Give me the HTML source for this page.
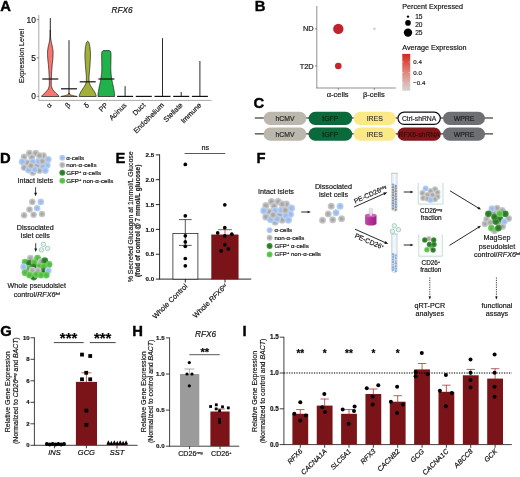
<!DOCTYPE html>
<html lang="en">
<head>
<meta charset="utf-8">
<title>RFX6 figure</title>
<style>
html,body{margin:0;padding:0;background:#fff;}
body{width:520px;height:477px;overflow:hidden;}
svg{display:block;font-family:"Liberation Sans",sans-serif;}
svg text{stroke:currentColor;stroke-width:0.16px;paint-order:stroke fill;}
</style>
</head>
<body>
<svg width="520" height="477" viewBox="0 0 520 477">
<defs>
<radialGradient id="gB" cx="0.5" cy="0.5" r="0.5"><stop offset="0" stop-color="#9bbbeb"/><stop offset="0.3" stop-color="#9bbbeb"/><stop offset="0.72" stop-color="#b1cbf1"/><stop offset="1" stop-color="#bbd2f4"/></radialGradient>
<radialGradient id="gG" cx="0.5" cy="0.5" r="0.5"><stop offset="0" stop-color="#a7a7a7"/><stop offset="0.3" stop-color="#a7a7a7"/><stop offset="0.72" stop-color="#c3c3c3"/><stop offset="1" stop-color="#cdcdcc"/></radialGradient>
<radialGradient id="gD" cx="0.5" cy="0.5" r="0.5"><stop offset="0" stop-color="#28772a"/><stop offset="0.3" stop-color="#28772a"/><stop offset="0.72" stop-color="#3a8c33"/><stop offset="1" stop-color="#4f9c45"/></radialGradient>
<radialGradient id="gL" cx="0.5" cy="0.5" r="0.5"><stop offset="0" stop-color="#52bb42"/><stop offset="0.3" stop-color="#52bb42"/><stop offset="0.72" stop-color="#66c857"/><stop offset="1" stop-color="#7bd26d"/></radialGradient>
<linearGradient id="cb" x1="0" y1="0" x2="0" y2="1"><stop offset="0" stop-color="#d6241c"/><stop offset="0.5" stop-color="#e0867c"/><stop offset="1" stop-color="#d6d6d6"/></linearGradient>
<linearGradient id="mag" x1="0" y1="0" x2="1" y2="0"><stop offset="0" stop-color="#c04aa6"/><stop offset="0.5" stop-color="#b02f95"/><stop offset="1" stop-color="#9a2482"/></linearGradient>
<linearGradient id="tube" x1="0" y1="0" x2="1" y2="0"><stop offset="0" stop-color="#dfe7ef"/><stop offset="0.5" stop-color="#f6f9fc"/><stop offset="1" stop-color="#dfe7ef"/></linearGradient>
</defs>
<rect width="520" height="477" fill="#ffffff"/>
<text transform="translate(5.55 11.4) scale(1 1.04)" font-size="14.8" font-weight="bold" text-anchor="middle" fill="#000" style="stroke-width:0.4px">A</text>
<text x="122" y="12.6" font-size="8.2" fill="#111" text-anchor="middle" font-style="italic">RFX6</text>
<line x1="38.8" y1="15" x2="38.8" y2="100.4" stroke="#555" stroke-width="0.5"/>
<line x1="38.5" y1="100.4" x2="211.5" y2="100.4" stroke="#555" stroke-width="0.5"/>
<line x1="36.8" y1="96.3" x2="38.8" y2="96.3" stroke="#333" stroke-width="0.6"/>
<text x="35.8" y="99.3" font-size="8.4" fill="#111" text-anchor="end">0</text>
<line x1="36.8" y1="57.9" x2="38.8" y2="57.9" stroke="#333" stroke-width="0.6"/>
<text x="35.8" y="60.9" font-size="8.4" fill="#111" text-anchor="end">5</text>
<line x1="36.8" y1="19.6" x2="38.8" y2="19.6" stroke="#333" stroke-width="0.6"/>
<text x="35.8" y="22.6" font-size="8.4" fill="#111" text-anchor="end">10</text>
<text x="24.3" y="56" font-size="7.1" fill="#111" text-anchor="middle" transform="rotate(-90 24.3 56)">Expression Level</text>
<line x1="50.3" y1="18.1" x2="50.3" y2="40" stroke="#111" stroke-width="0.9"/>
<line x1="69" y1="40.2" x2="69" y2="94" stroke="#111" stroke-width="0.9"/>
<polygon points="50.35,30 50.35,30.84 50.37,31.68 50.39,32.53 50.41,33.37 50.44,34.21 50.48,35.05 50.52,35.89 50.57,36.73 50.62,37.58 50.68,38.42 50.78,39.26 50.92,40.1 51.08,40.94 51.25,41.78 51.43,42.63 51.6,43.47 51.79,44.31 51.99,45.15 52.2,45.99 52.39,46.84 52.55,47.68 52.68,48.52 52.8,49.36 52.92,50.2 53.02,51.04 53.08,51.89 53.1,52.73 53.09,53.57 53.07,54.41 53.04,55.25 53,56.09 52.96,56.94 52.91,57.78 52.86,58.62 52.79,59.46 52.7,60.3 52.61,61.15 52.51,61.99 52.41,62.83 52.31,63.67 52.23,64.51 52.15,65.35 52.08,66.2 52.01,67.04 51.95,67.88 51.89,68.72 51.83,69.56 51.77,70.41 51.72,71.25 51.67,72.09 51.62,72.93 51.58,73.77 51.53,74.61 51.49,75.46 51.45,76.3 51.4,77.14 51.36,77.98 51.33,78.82 51.31,79.66 51.29,80.51 51.28,81.35 51.26,82.19 51.25,83.03 51.25,83.87 51.28,84.72 51.39,85.56 51.54,86.4 51.74,87.24 51.99,88.08 52.38,88.92 52.87,89.77 53.57,90.61 54.31,91.45 55.03,92.29 55.84,93.13 56.87,93.97 57.86,94.82 58.68,95.66 59,96.5 41.6,96.5 41.92,95.66 42.74,94.82 43.73,93.97 44.76,93.13 45.57,92.29 46.29,91.45 47.03,90.61 47.73,89.77 48.22,88.92 48.61,88.08 48.86,87.24 49.06,86.4 49.21,85.56 49.32,84.72 49.35,83.87 49.35,83.03 49.34,82.19 49.32,81.35 49.31,80.51 49.29,79.66 49.27,78.82 49.24,77.98 49.2,77.14 49.15,76.3 49.11,75.46 49.07,74.61 49.02,73.77 48.98,72.93 48.93,72.09 48.88,71.25 48.83,70.41 48.77,69.56 48.71,68.72 48.65,67.88 48.59,67.04 48.52,66.2 48.45,65.35 48.37,64.51 48.29,63.67 48.19,62.83 48.09,61.99 47.99,61.15 47.9,60.3 47.81,59.46 47.74,58.62 47.69,57.78 47.64,56.94 47.6,56.09 47.56,55.25 47.53,54.41 47.51,53.57 47.5,52.73 47.52,51.89 47.58,51.04 47.68,50.2 47.8,49.36 47.92,48.52 48.05,47.68 48.21,46.84 48.4,45.99 48.61,45.15 48.81,44.31 49,43.47 49.17,42.63 49.35,41.78 49.52,40.94 49.68,40.1 49.82,39.26 49.92,38.42 49.98,37.58 50.03,36.73 50.08,35.89 50.12,35.05 50.16,34.21 50.19,33.37 50.21,32.53 50.23,31.68 50.25,30.84 50.25,30" fill="#f8766d" stroke="#151515" stroke-width="0.7" stroke-linejoin="round"/>
<polygon points="69.05,93 69.05,93.04 69.05,93.09 69.06,93.13 69.06,93.18 69.07,93.22 69.07,93.27 69.08,93.31 69.09,93.35 69.1,93.4 69.11,93.44 69.12,93.49 69.13,93.53 69.15,93.58 69.16,93.62 69.18,93.66 69.2,93.71 69.21,93.75 69.23,93.8 69.25,93.84 69.27,93.89 69.29,93.93 69.31,93.97 69.34,94.02 69.36,94.06 69.39,94.11 69.41,94.15 69.44,94.2 69.46,94.24 69.49,94.28 69.52,94.33 69.56,94.37 69.61,94.42 69.67,94.46 69.74,94.51 69.81,94.55 69.89,94.59 69.98,94.64 70.08,94.68 70.18,94.73 70.29,94.77 70.4,94.82 70.52,94.86 70.64,94.91 70.77,94.95 70.89,94.99 71.02,95.04 71.15,95.08 71.28,95.13 71.41,95.17 71.55,95.22 71.69,95.26 71.84,95.3 72.01,95.35 72.18,95.39 72.37,95.44 72.56,95.48 72.76,95.53 72.96,95.57 73.16,95.61 73.37,95.66 73.58,95.7 73.79,95.75 74,95.79 74.21,95.84 74.41,95.88 74.61,95.92 74.81,95.97 75.01,96.01 75.21,96.06 75.41,96.1 75.62,96.15 75.83,96.19 76.03,96.23 76.24,96.28 76.45,96.32 76.66,96.37 76.87,96.41 77.09,96.46 77.3,96.5 60.7,96.5 60.91,96.46 61.13,96.41 61.34,96.37 61.55,96.32 61.76,96.28 61.97,96.23 62.17,96.19 62.38,96.15 62.59,96.1 62.79,96.06 62.99,96.01 63.19,95.97 63.39,95.92 63.59,95.88 63.79,95.84 64,95.79 64.21,95.75 64.42,95.7 64.63,95.66 64.84,95.61 65.04,95.57 65.24,95.53 65.44,95.48 65.63,95.44 65.82,95.39 65.99,95.35 66.16,95.3 66.31,95.26 66.45,95.22 66.59,95.17 66.72,95.13 66.85,95.08 66.98,95.04 67.11,94.99 67.23,94.95 67.36,94.91 67.48,94.86 67.6,94.82 67.71,94.77 67.82,94.73 67.92,94.68 68.02,94.64 68.11,94.59 68.19,94.55 68.26,94.51 68.33,94.46 68.39,94.42 68.44,94.37 68.48,94.33 68.51,94.28 68.54,94.24 68.56,94.2 68.59,94.15 68.61,94.11 68.64,94.06 68.66,94.02 68.69,93.97 68.71,93.93 68.73,93.89 68.75,93.84 68.77,93.8 68.79,93.75 68.8,93.71 68.82,93.66 68.84,93.62 68.85,93.58 68.87,93.53 68.88,93.49 68.89,93.44 68.9,93.4 68.91,93.35 68.92,93.31 68.93,93.27 68.93,93.22 68.94,93.18 68.94,93.13 68.95,93.09 68.95,93.04 68.95,93" fill="#e08b00" stroke="#151515" stroke-width="0.7" stroke-linejoin="round"/>
<polygon points="87.73,41.2 88.53,41.9 88.89,42.6 89.13,43.3 89.3,44 89.46,44.7 89.6,45.4 89.73,46.1 89.85,46.8 89.96,47.5 90.05,48.2 90.13,48.9 90.19,49.6 90.25,50.3 90.3,51 90.35,51.7 90.4,52.4 90.44,53.1 90.47,53.8 90.49,54.5 90.5,55.2 90.5,55.9 90.48,56.6 90.45,57.3 90.41,58 90.37,58.7 90.33,59.4 90.29,60.1 90.26,60.8 90.22,61.5 90.17,62.2 90.13,62.9 90.08,63.6 90.03,64.3 89.99,65 89.94,65.7 89.89,66.4 89.83,67.1 89.78,67.8 89.72,68.5 89.67,69.2 89.61,69.9 89.55,70.6 89.48,71.3 89.41,72 89.34,72.7 89.27,73.4 89.21,74.1 89.16,74.8 89.11,75.5 89.07,76.2 89.03,76.9 89,77.6 89,78.3 89,79 89,79.7 89,80.4 89.01,81.1 89.1,81.8 89.29,82.5 89.51,83.2 89.73,83.9 90.02,84.6 90.35,85.3 90.72,86 91.15,86.7 91.62,87.4 92.12,88.1 92.61,88.8 93.06,89.5 93.51,90.2 93.96,90.9 94.4,91.6 94.8,92.3 95.16,93 95.46,93.7 95.73,94.4 95.95,95.1 96.1,95.8 96.2,96.5 79.2,96.5 79.3,95.8 79.45,95.1 79.67,94.4 79.94,93.7 80.24,93 80.6,92.3 81,91.6 81.44,90.9 81.89,90.2 82.34,89.5 82.79,88.8 83.28,88.1 83.78,87.4 84.25,86.7 84.68,86 85.05,85.3 85.38,84.6 85.67,83.9 85.89,83.2 86.11,82.5 86.3,81.8 86.39,81.1 86.4,80.4 86.4,79.7 86.4,79 86.4,78.3 86.4,77.6 86.37,76.9 86.33,76.2 86.29,75.5 86.24,74.8 86.19,74.1 86.13,73.4 86.06,72.7 85.99,72 85.92,71.3 85.85,70.6 85.79,69.9 85.73,69.2 85.68,68.5 85.62,67.8 85.57,67.1 85.51,66.4 85.46,65.7 85.41,65 85.37,64.3 85.32,63.6 85.27,62.9 85.23,62.2 85.18,61.5 85.14,60.8 85.11,60.1 85.07,59.4 85.03,58.7 84.99,58 84.95,57.3 84.92,56.6 84.9,55.9 84.9,55.2 84.91,54.5 84.93,53.8 84.96,53.1 85,52.4 85.05,51.7 85.1,51 85.15,50.3 85.21,49.6 85.27,48.9 85.35,48.2 85.44,47.5 85.55,46.8 85.67,46.1 85.8,45.4 85.94,44.7 86.1,44 86.27,43.3 86.51,42.6 86.87,41.9 87.67,41.2" fill="#a2b038" stroke="#151515" stroke-width="0.7" stroke-linejoin="round"/>
<polygon points="109.3,50.6 110.2,51.18 110.57,51.76 110.77,52.34 110.85,52.92 110.91,53.51 110.96,54.09 110.99,54.67 111,55.25 111,55.83 111,56.41 110.99,56.99 110.98,57.57 110.97,58.15 110.96,58.73 110.95,59.32 110.94,59.9 110.93,60.48 110.92,61.06 110.91,61.64 110.9,62.22 110.89,62.8 110.88,63.38 110.86,63.96 110.85,64.54 110.84,65.13 110.83,65.71 110.82,66.29 110.81,66.87 110.81,67.45 110.8,68.03 110.8,68.61 110.81,69.19 110.82,69.77 110.84,70.35 110.87,70.94 110.91,71.52 110.95,72.1 111,72.68 111.04,73.26 111.09,73.84 111.14,74.42 111.2,75 111.26,75.58 111.34,76.16 111.42,76.75 111.5,77.33 111.59,77.91 111.67,78.49 111.77,79.07 111.87,79.65 111.97,80.23 112.07,80.81 112.18,81.39 112.3,81.97 112.41,82.56 112.53,83.14 112.65,83.72 112.78,84.3 112.92,84.88 113.05,85.46 113.19,86.04 113.32,86.62 113.44,87.2 113.55,87.78 113.66,88.37 113.76,88.95 113.86,89.53 113.96,90.11 114.05,90.69 114.14,91.27 114.23,91.85 114.32,92.43 114.39,93.01 114.46,93.59 114.52,94.18 114.57,94.76 114.6,95.34 114.6,95.92 114.6,96.5 98,96.5 98,95.92 98,95.34 98.03,94.76 98.08,94.18 98.14,93.59 98.21,93.01 98.28,92.43 98.37,91.85 98.46,91.27 98.55,90.69 98.64,90.11 98.74,89.53 98.84,88.95 98.94,88.37 99.05,87.78 99.16,87.2 99.28,86.62 99.41,86.04 99.55,85.46 99.68,84.88 99.82,84.3 99.95,83.72 100.07,83.14 100.19,82.56 100.3,81.97 100.42,81.39 100.53,80.81 100.63,80.23 100.73,79.65 100.83,79.07 100.93,78.49 101.01,77.91 101.1,77.33 101.18,76.75 101.26,76.16 101.34,75.58 101.4,75 101.46,74.42 101.51,73.84 101.56,73.26 101.6,72.68 101.65,72.1 101.69,71.52 101.73,70.94 101.76,70.35 101.78,69.77 101.79,69.19 101.8,68.61 101.8,68.03 101.79,67.45 101.79,66.87 101.78,66.29 101.77,65.71 101.76,65.13 101.75,64.54 101.74,63.96 101.72,63.38 101.71,62.8 101.7,62.22 101.69,61.64 101.68,61.06 101.67,60.48 101.66,59.9 101.65,59.32 101.64,58.73 101.63,58.15 101.62,57.57 101.61,56.99 101.6,56.41 101.6,55.83 101.6,55.25 101.61,54.67 101.64,54.09 101.69,53.51 101.75,52.92 101.83,52.34 102.03,51.76 102.4,51.18 103.3,50.6" fill="#21b24b" stroke="#151515" stroke-width="0.7" stroke-linejoin="round"/>
<line x1="125.1" y1="86.2" x2="125.1" y2="96.3" stroke="#111" stroke-width="0.9"/>
<line x1="162.5" y1="38.2" x2="162.5" y2="96.3" stroke="#111" stroke-width="0.9"/>
<line x1="181.2" y1="92" x2="181.2" y2="96.3" stroke="#111" stroke-width="0.9"/>
<line x1="199.9" y1="61" x2="199.9" y2="96.3" stroke="#111" stroke-width="0.9"/>
<line x1="42.3" y1="79" x2="58.3" y2="79" stroke="#111" stroke-width="1.2"/>
<line x1="61" y1="88.8" x2="77" y2="88.8" stroke="#111" stroke-width="1.2"/>
<line x1="79.7" y1="81.8" x2="95.7" y2="81.8" stroke="#111" stroke-width="1.2"/>
<line x1="98.4" y1="79" x2="114.4" y2="79" stroke="#111" stroke-width="1.2"/>
<line x1="117.1" y1="96.4" x2="133.1" y2="96.4" stroke="#111" stroke-width="1.2"/>
<line x1="135.8" y1="96.4" x2="151.8" y2="96.4" stroke="#111" stroke-width="1.2"/>
<line x1="154.5" y1="96.4" x2="170.5" y2="96.4" stroke="#111" stroke-width="1.2"/>
<line x1="173.2" y1="96.4" x2="189.2" y2="96.4" stroke="#111" stroke-width="1.2"/>
<line x1="191.9" y1="96.4" x2="207.9" y2="96.4" stroke="#111" stroke-width="1.2"/>
<text x="52.3" y="105.6" font-size="7.15" fill="#111" text-anchor="end" transform="rotate(-45 52.3 105.6)">α</text>
<text x="71" y="105.6" font-size="7.15" fill="#111" text-anchor="end" transform="rotate(-45 71 105.6)">β</text>
<text x="89.7" y="105.6" font-size="7.15" fill="#111" text-anchor="end" transform="rotate(-45 89.7 105.6)">δ</text>
<text x="108.4" y="105.6" font-size="7.15" fill="#111" text-anchor="end" transform="rotate(-45 108.4 105.6)">PP</text>
<text x="127.1" y="105.6" font-size="7.15" fill="#111" text-anchor="end" transform="rotate(-45 127.1 105.6)">Acinus</text>
<text x="145.8" y="105.6" font-size="7.15" fill="#111" text-anchor="end" transform="rotate(-45 145.8 105.6)">Duct</text>
<text x="164.5" y="105.6" font-size="7.15" fill="#111" text-anchor="end" transform="rotate(-45 164.5 105.6)">Endothelium</text>
<text x="183.2" y="105.6" font-size="7.15" fill="#111" text-anchor="end" transform="rotate(-45 183.2 105.6)">Stellate</text>
<text x="201.9" y="105.6" font-size="7.15" fill="#111" text-anchor="end" transform="rotate(-45 201.9 105.6)">Immune</text>
<text transform="translate(260.1 11.05) scale(1 1.04)" font-size="14.8" font-weight="bold" text-anchor="middle" fill="#000" style="stroke-width:0.4px">B</text>
<line x1="316.8" y1="6" x2="316.8" y2="88.3" stroke="#444" stroke-width="0.6"/>
<line x1="316.5" y1="88" x2="395.8" y2="88" stroke="#444" stroke-width="0.6"/>
<line x1="315" y1="28.8" x2="316.8" y2="28.8" stroke="#444" stroke-width="0.6"/>
<text x="313.6" y="31.4" font-size="7.4" fill="#111" text-anchor="end">ND</text>
<line x1="315" y1="65.9" x2="316.8" y2="65.9" stroke="#444" stroke-width="0.6"/>
<text x="313.6" y="68.5" font-size="7.4" fill="#111" text-anchor="end">T2D</text>
<line x1="338.3" y1="88" x2="338.3" y2="89.8" stroke="#444" stroke-width="0.6"/>
<text x="337.7" y="96.6" font-size="7.5" fill="#111" text-anchor="middle">α-cells</text>
<line x1="374.4" y1="88" x2="374.4" y2="89.8" stroke="#444" stroke-width="0.6"/>
<text x="373.8" y="96.6" font-size="7.5" fill="#111" text-anchor="middle">β-cells</text>
<circle cx="338.3" cy="28.9" r="5.2" fill="#c2232a"/>
<circle cx="338.3" cy="66" r="3.3" fill="#c6262b"/>
<circle cx="374.4" cy="28.9" r="1.3" fill="#d2d2d2"/>
<circle cx="374.4" cy="66" r="0.4" fill="#ececec"/>
<text x="402.3" y="8.6" font-size="7.2" fill="#111">Percent Expressed</text>
<circle cx="408" cy="16.6" r="1.2" fill="#000"/>
<circle cx="408" cy="22.9" r="2.8" fill="#000"/>
<circle cx="408" cy="32.6" r="4.2" fill="#000"/>
<text x="415.2" y="19.2" font-size="6.6" fill="#222">15</text>
<text x="415.2" y="27" font-size="6.6" fill="#222">20</text>
<text x="415.2" y="35.2" font-size="6.6" fill="#222">25</text>
<text x="402.3" y="50.3" font-size="7.2" fill="#111">Average Expression</text>
<rect x="402.3" y="53.9" width="7.9" height="36.9" fill="url(#cb)"/>
<line x1="402.3" y1="62" x2="403.9" y2="62" stroke="#fff" stroke-width="0.4"/>
<line x1="408.6" y1="62" x2="410.2" y2="62" stroke="#fff" stroke-width="0.4"/>
<text x="413.3" y="64.2" font-size="6.1" fill="#222">0.4</text>
<line x1="402.3" y1="72.5" x2="403.9" y2="72.5" stroke="#fff" stroke-width="0.4"/>
<line x1="408.6" y1="72.5" x2="410.2" y2="72.5" stroke="#fff" stroke-width="0.4"/>
<text x="413.3" y="74.7" font-size="6.1" fill="#222">0.0</text>
<line x1="402.3" y1="83" x2="403.9" y2="83" stroke="#fff" stroke-width="0.4"/>
<line x1="408.6" y1="83" x2="410.2" y2="83" stroke="#fff" stroke-width="0.4"/>
<text x="413.3" y="85.2" font-size="6.1" fill="#222">−0.4</text>
<text transform="translate(258.85 107.75) scale(1 1.04)" font-size="14.8" font-weight="bold" text-anchor="middle" fill="#000" style="stroke-width:0.4px">C</text>
<line x1="254.8" y1="118" x2="493" y2="118" stroke="#111" stroke-width="1"/>
<rect x="263.6" y="111.7" width="42.8" height="13.2" fill="#bcb7ad" rx="6.6"/>
<text x="285" y="120.75" font-size="6.9" fill="#2c2c2c" text-anchor="middle">hCMV</text>
<rect x="308.6" y="111.7" width="43.6" height="13.2" fill="#0b6a3b" rx="6.6"/>
<text x="330.4" y="120.75" font-size="6.9" fill="#032a15" text-anchor="middle">tGFP</text>
<rect x="353.6" y="111.7" width="42.2" height="13.2" fill="#fbe988" rx="6.6"/>
<text x="374.7" y="120.75" font-size="6.9" fill="#3c3c34" text-anchor="middle">IRES</text>
<rect x="398" y="112.2" width="42.3" height="12.2" fill="#fff" stroke="#111" stroke-width="1.2" rx="6.1"/>
<text x="419.15" y="120.75" font-size="6.8" fill="#222" text-anchor="middle">Ctrl-shRNA</text>
<rect x="443" y="111.7" width="42" height="13.2" fill="#6e6f72" rx="6.6"/>
<text x="464" y="120.75" font-size="6.9" fill="#222" text-anchor="middle">WPRE</text>
<line x1="254.8" y1="133.9" x2="493" y2="133.9" stroke="#111" stroke-width="1"/>
<rect x="263.6" y="127.6" width="42.8" height="13.2" fill="#bcb7ad" rx="6.6"/>
<text x="285" y="136.65" font-size="6.9" fill="#2c2c2c" text-anchor="middle">hCMV</text>
<rect x="308.6" y="127.6" width="43.6" height="13.2" fill="#0b6a3b" rx="6.6"/>
<text x="330.4" y="136.65" font-size="6.9" fill="#032a15" text-anchor="middle">tGFP</text>
<rect x="353.6" y="127.6" width="42.2" height="13.2" fill="#fbe988" rx="6.6"/>
<text x="374.7" y="136.65" font-size="6.9" fill="#3c3c34" text-anchor="middle">IRES</text>
<rect x="397.5" y="127.6" width="43.3" height="13.2" fill="#82161a" rx="6.6"/>
<text x="419.15" y="136.65" font-size="6.8" fill="#3f0a0c" text-anchor="middle">RFX6-shRNA</text>
<rect x="443" y="127.6" width="42" height="13.2" fill="#6e6f72" rx="6.6"/>
<text x="464" y="136.65" font-size="6.9" fill="#222" text-anchor="middle">WPRE</text>
<text transform="translate(5.4 163.45) scale(1 1.04)" font-size="14.8" font-weight="bold" text-anchor="middle" fill="#000" style="stroke-width:0.4px">D</text>
<circle cx="29.4" cy="153.2" r="3.45" fill="url(#gG)"/>
<circle cx="35.7" cy="153.2" r="3.45" fill="url(#gG)"/>
<circle cx="43.4" cy="155.6" r="3.45" fill="url(#gG)"/>
<circle cx="24.1" cy="157" r="3.45" fill="url(#gG)"/>
<circle cx="39.5" cy="155.6" r="3.45" fill="url(#gG)"/>
<circle cx="31.8" cy="157.5" r="3.45" fill="url(#gG)"/>
<circle cx="27.5" cy="162.8" r="3.45" fill="url(#gG)"/>
<circle cx="24.1" cy="167.6" r="3.45" fill="url(#gG)"/>
<circle cx="30.9" cy="165.7" r="3.45" fill="url(#gG)"/>
<circle cx="37.1" cy="165.7" r="3.45" fill="url(#gG)"/>
<circle cx="39.5" cy="170.5" r="3.45" fill="url(#gG)"/>
<circle cx="32.8" cy="172.4" r="3.45" fill="url(#gG)"/>
<circle cx="22.2" cy="161.8" r="3.45" fill="url(#gB)"/>
<circle cx="32.8" cy="161.8" r="3.45" fill="url(#gB)"/>
<circle cx="38.6" cy="161.3" r="3.45" fill="url(#gB)"/>
<circle cx="48.2" cy="159.4" r="3.45" fill="url(#gB)"/>
<circle cx="47.2" cy="165.2" r="3.45" fill="url(#gB)"/>
<circle cx="42.9" cy="166.6" r="3.45" fill="url(#gB)"/>
<circle cx="45.3" cy="170.5" r="3.45" fill="url(#gB)"/>
<circle cx="28.5" cy="170" r="3.45" fill="url(#gB)"/>
<circle cx="34.7" cy="169.5" r="3.45" fill="url(#gB)"/>
<circle cx="42.4" cy="161.3" r="3.45" fill="url(#gG)"/>
<circle cx="30.9" cy="165.7" r="3.45" fill="url(#gG)"/>
<text x="35.3" y="182.7" font-size="7.15" fill="#111" text-anchor="middle">Intact islets</text>
<line x1="35.6" y1="187.2" x2="35.6" y2="193.1" stroke="#111" stroke-width="0.8"/>
<polygon points="35.6,196.2 34.17,192.8 37.03,192.8" fill="#111"/>
<circle cx="32.3" cy="201.9" r="3.3" fill="url(#gG)"/>
<circle cx="40.8" cy="201.9" r="3.3" fill="url(#gB)"/>
<circle cx="29.5" cy="209.5" r="3.3" fill="url(#gG)"/>
<circle cx="37.1" cy="208.2" r="3.3" fill="url(#gB)"/>
<circle cx="24.1" cy="215.3" r="3.3" fill="url(#gG)"/>
<circle cx="33.6" cy="214.7" r="3.3" fill="url(#gG)"/>
<circle cx="42" cy="214" r="3.3" fill="url(#gG)"/>
<circle cx="62.3" cy="157.8" r="3" fill="url(#gB)"/>
<text x="66.2" y="160" font-size="6.2" fill="#111">α-cells</text>
<circle cx="62.3" cy="164.9" r="3" fill="url(#gG)"/>
<text x="66.2" y="167.1" font-size="6.2" fill="#111">non-α-cells</text>
<circle cx="62.3" cy="172.8" r="3" fill="url(#gD)"/>
<text x="66.2" y="175" font-size="6.2" fill="#111">GFP<tspan baseline-shift="super" font-size="4">+</tspan> α-cells</text>
<circle cx="62.3" cy="180.8" r="3" fill="url(#gL)"/>
<text x="66.2" y="183" font-size="6.2" fill="#111">GFP<tspan baseline-shift="super" font-size="4">+</tspan> non-α-cells</text>
<text x="35.3" y="229.6" font-size="7.15" fill="#111" text-anchor="middle">Dissociated</text>
<text x="35.3" y="237.9" font-size="7.15" fill="#111" text-anchor="middle">islet cells</text>
<line x1="35.7" y1="243.2" x2="35.7" y2="248.9" stroke="#111" stroke-width="0.8"/>
<polygon points="35.7,252 34.27,248.6 37.13,248.6" fill="#111"/>
<circle cx="43.4" cy="244.3" r="2.2" fill="#ffffff" stroke="#6fb39c" stroke-width="0.65"/>
<circle cx="43.4" cy="244.3" r="0.92" fill="#f4fbf8" stroke="#a9d6c6" stroke-width="0.4"/>
<circle cx="47.5" cy="248.5" r="2.2" fill="#ffffff" stroke="#6fb39c" stroke-width="0.65"/>
<circle cx="47.5" cy="248.5" r="0.92" fill="#f4fbf8" stroke="#a9d6c6" stroke-width="0.4"/>
<circle cx="41.4" cy="249.9" r="2.2" fill="#ffffff" stroke="#6fb39c" stroke-width="0.65"/>
<circle cx="41.4" cy="249.9" r="0.92" fill="#f4fbf8" stroke="#a9d6c6" stroke-width="0.4"/>
<circle cx="30.4" cy="258.3" r="3.45" fill="url(#gG)"/>
<circle cx="37.6" cy="258.3" r="3.45" fill="url(#gL)"/>
<circle cx="41" cy="261.6" r="3.45" fill="url(#gG)"/>
<circle cx="44.8" cy="260.7" r="3.45" fill="url(#gD)"/>
<circle cx="25.1" cy="262.1" r="3.45" fill="url(#gL)"/>
<circle cx="29.4" cy="263.1" r="3.45" fill="url(#gD)"/>
<circle cx="34.2" cy="262.6" r="3.45" fill="url(#gL)"/>
<circle cx="49.1" cy="264.5" r="3.45" fill="url(#gL)"/>
<circle cx="28" cy="268.4" r="3.45" fill="url(#gL)"/>
<circle cx="33.8" cy="266.9" r="3.45" fill="url(#gD)"/>
<circle cx="39.5" cy="266.4" r="3.45" fill="url(#gL)"/>
<circle cx="43.8" cy="266.4" r="3.45" fill="url(#gL)"/>
<circle cx="23.7" cy="266.9" r="3.45" fill="url(#gB)"/>
<circle cx="43.8" cy="271.3" r="3.45" fill="url(#gD)"/>
<circle cx="32.3" cy="270.3" r="3.45" fill="url(#gG)"/>
<circle cx="38.1" cy="270.8" r="3.45" fill="url(#gG)"/>
<circle cx="48.2" cy="270.8" r="3.45" fill="url(#gB)"/>
<circle cx="25.1" cy="272.7" r="3.45" fill="url(#gL)"/>
<circle cx="33.8" cy="277" r="3.45" fill="url(#gD)"/>
<circle cx="29.4" cy="275.1" r="3.45" fill="url(#gL)"/>
<circle cx="36.2" cy="274.6" r="3.45" fill="url(#gL)"/>
<circle cx="41" cy="275.1" r="3.45" fill="url(#gL)"/>
<circle cx="46.3" cy="275.1" r="3.45" fill="url(#gL)"/>
<text x="36.7" y="287.9" font-size="7.15" fill="#111" text-anchor="middle">Whole pseudoislet</text>
<text x="36.7" y="296.8" font-size="7.15" fill="#111" text-anchor="middle">control/<tspan font-style="italic">RFX6</tspan><tspan baseline-shift="super" font-size="4" font-style="italic">kd</tspan></text>
<text transform="translate(120.4 163.15) scale(1 1.04)" font-size="14.8" font-weight="bold" text-anchor="middle" fill="#000" style="stroke-width:0.4px">E</text>
<line x1="159.6" y1="154.4" x2="159.6" y2="279.55" stroke="#111" stroke-width="0.9"/>
<line x1="159.6" y1="279.1" x2="251.2" y2="279.1" stroke="#111" stroke-width="0.9"/>
<line x1="155.8" y1="279.1" x2="159.6" y2="279.1" stroke="#111" stroke-width="0.9"/>
<text x="154.2" y="281.3" font-size="6.2" fill="#111" text-anchor="end" font-weight="bold">0.0</text>
<line x1="155.8" y1="254.25" x2="159.6" y2="254.25" stroke="#111" stroke-width="0.9"/>
<text x="154.2" y="256.45" font-size="6.2" fill="#111" text-anchor="end" font-weight="bold">0.5</text>
<line x1="155.8" y1="229.4" x2="159.6" y2="229.4" stroke="#111" stroke-width="0.9"/>
<text x="154.2" y="231.6" font-size="6.2" fill="#111" text-anchor="end" font-weight="bold">1.0</text>
<line x1="155.8" y1="204.55" x2="159.6" y2="204.55" stroke="#111" stroke-width="0.9"/>
<text x="154.2" y="206.75" font-size="6.2" fill="#111" text-anchor="end" font-weight="bold">1.5</text>
<line x1="155.8" y1="179.7" x2="159.6" y2="179.7" stroke="#111" stroke-width="0.9"/>
<text x="154.2" y="181.9" font-size="6.2" fill="#111" text-anchor="end" font-weight="bold">2.0</text>
<line x1="155.8" y1="154.85" x2="159.6" y2="154.85" stroke="#111" stroke-width="0.9"/>
<text x="154.2" y="157.05" font-size="6.2" fill="#111" text-anchor="end" font-weight="bold">2.5</text>
<rect x="172.9" y="233.38" width="25" height="45.72" fill="#fff" stroke="#111" stroke-width="0.7"/>
<rect x="211.6" y="234.87" width="26.6" height="44.23" fill="#7a1418" stroke="#7a1418" stroke-width="0.5"/>
<line x1="185.3" y1="219.6" x2="185.3" y2="245.4" stroke="#111" stroke-width="0.7"/>
<line x1="178.9" y1="219.6" x2="191.7" y2="219.6" stroke="#111" stroke-width="0.7"/>
<line x1="178.9" y1="245.4" x2="191.7" y2="245.4" stroke="#111" stroke-width="0.7"/>
<line x1="225" y1="229.7" x2="225" y2="236" stroke="#9c1c20" stroke-width="0.7"/>
<line x1="218.2" y1="229.7" x2="231.8" y2="229.7" stroke="#9c1c20" stroke-width="0.8"/>
<circle cx="185.3" cy="164.4" r="1.85" fill="#000"/>
<circle cx="185.3" cy="215.8" r="1.85" fill="#000"/>
<circle cx="185.3" cy="235.8" r="1.85" fill="#000"/>
<circle cx="185.3" cy="241.9" r="1.85" fill="#000"/>
<circle cx="185.3" cy="246.3" r="1.85" fill="#000"/>
<circle cx="185.3" cy="258.5" r="1.85" fill="#000"/>
<circle cx="185.3" cy="265.8" r="1.85" fill="#000"/>
<circle cx="224.8" cy="204.8" r="1.85" fill="#000"/>
<circle cx="224.8" cy="227.7" r="1.85" fill="#000"/>
<circle cx="217.7" cy="232.9" r="1.85" fill="#000"/>
<circle cx="231.8" cy="234.2" r="1.85" fill="#000"/>
<circle cx="224.8" cy="235.9" r="1.85" fill="#000"/>
<circle cx="224.8" cy="244.7" r="1.85" fill="#000"/>
<circle cx="228.4" cy="248.8" r="1.85" fill="#000"/>
<circle cx="221.1" cy="250.9" r="1.85" fill="#000"/>
<line x1="184.6" y1="153.5" x2="225.2" y2="153.5" stroke="#111" stroke-width="0.7"/>
<text x="205.2" y="149.9" font-size="7.2" fill="#111" text-anchor="middle">ns</text>
<text x="132.6" y="216.8" font-size="6.95" fill="#222" text-anchor="middle" transform="rotate(-90 132.6 216.8)">% Secreted Glucagon at 1mmol/L Glucose</text>
<text x="140.4" y="220.8" font-size="6.47" fill="#222" text-anchor="middle" font-weight="bold" transform="rotate(-90 140.4 220.8)">(fold of control @ 7 mmol/L glucose)</text>
<line x1="185.3" y1="279.1" x2="185.3" y2="282.5" stroke="#111" stroke-width="0.9"/>
<text x="187.9" y="286.7" font-size="7.25" fill="#111" text-anchor="end" transform="rotate(-45 187.9 286.7)">Whole Control</text>
<line x1="225" y1="279.1" x2="225" y2="282.5" stroke="#111" stroke-width="0.9"/>
<text x="227.6" y="286.7" font-size="7.25" fill="#111" text-anchor="end" transform="rotate(-45 227.6 286.7)">Whole <tspan font-style="italic">RFX6</tspan><tspan baseline-shift="super" font-size="3.6" font-style="italic">kd</tspan></text>
<text transform="translate(260.95 163.15) scale(1 1.04)" font-size="14.8" font-weight="bold" text-anchor="middle" fill="#000" style="stroke-width:0.4px">F</text>
<text x="276" y="194" font-size="7.2" fill="#111" text-anchor="middle">Intact islets</text>
<circle cx="271.5" cy="201.65" r="3.65" fill="url(#gG)"/>
<circle cx="278.18" cy="201.65" r="3.65" fill="url(#gG)"/>
<circle cx="286.35" cy="204.2" r="3.65" fill="url(#gG)"/>
<circle cx="265.89" cy="205.68" r="3.65" fill="url(#gG)"/>
<circle cx="282.21" cy="204.2" r="3.65" fill="url(#gG)"/>
<circle cx="274.05" cy="206.21" r="3.65" fill="url(#gG)"/>
<circle cx="269.49" cy="211.83" r="3.65" fill="url(#gG)"/>
<circle cx="265.89" cy="216.92" r="3.65" fill="url(#gG)"/>
<circle cx="273.1" cy="214.9" r="3.65" fill="url(#gG)"/>
<circle cx="279.67" cy="214.9" r="3.65" fill="url(#gG)"/>
<circle cx="282.21" cy="219.99" r="3.65" fill="url(#gG)"/>
<circle cx="275.11" cy="222.01" r="3.65" fill="url(#gG)"/>
<circle cx="263.87" cy="210.77" r="3.65" fill="url(#gB)"/>
<circle cx="275.11" cy="210.77" r="3.65" fill="url(#gB)"/>
<circle cx="281.26" cy="210.24" r="3.65" fill="url(#gB)"/>
<circle cx="291.43" cy="208.23" r="3.65" fill="url(#gB)"/>
<circle cx="290.37" cy="214.37" r="3.65" fill="url(#gB)"/>
<circle cx="285.81" cy="215.86" r="3.65" fill="url(#gB)"/>
<circle cx="288.36" cy="219.99" r="3.65" fill="url(#gB)"/>
<circle cx="270.55" cy="219.46" r="3.65" fill="url(#gB)"/>
<circle cx="277.12" cy="218.93" r="3.65" fill="url(#gB)"/>
<circle cx="285.29" cy="210.24" r="3.65" fill="url(#gG)"/>
<circle cx="273.1" cy="214.9" r="3.65" fill="url(#gG)"/>
<line x1="301.2" y1="212" x2="307.9" y2="212" stroke="#111" stroke-width="0.9"/>
<polygon points="310.8,212 307.6,213.34 307.6,210.66" fill="#111"/>
<text x="333.5" y="188.8" font-size="7.2" fill="#111" text-anchor="middle">Dissociated</text>
<text x="333.5" y="197.2" font-size="7.2" fill="#111" text-anchor="middle">islet cells</text>
<circle cx="331.2" cy="206.2" r="3.5" fill="url(#gG)"/>
<circle cx="340.1" cy="206.2" r="3.5" fill="url(#gB)"/>
<circle cx="328.2" cy="214" r="3.5" fill="url(#gG)"/>
<circle cx="336" cy="212.7" r="3.5" fill="url(#gB)"/>
<circle cx="322.5" cy="220.3" r="3.5" fill="url(#gG)"/>
<circle cx="332.7" cy="219.8" r="3.5" fill="url(#gG)"/>
<circle cx="341.6" cy="218.8" r="3.5" fill="url(#gG)"/>
<circle cx="269.6" cy="230.2" r="3" fill="url(#gB)"/>
<text x="274.4" y="232.2" font-size="6.1" fill="#111">α-cells</text>
<circle cx="269.6" cy="237.8" r="3" fill="url(#gG)"/>
<text x="274.4" y="239.8" font-size="6.1" fill="#111">non-α-cells</text>
<circle cx="269.6" cy="246" r="3" fill="url(#gD)"/>
<text x="274.4" y="248" font-size="6.1" fill="#111">GFP<tspan baseline-shift="super" font-size="4">+</tspan> α-cells</text>
<circle cx="269.6" cy="254.4" r="3" fill="url(#gL)"/>
<text x="274.4" y="256.4" font-size="6.1" fill="#111">GFP<tspan baseline-shift="super" font-size="4">+</tspan> non-α-cells</text>
<line x1="354.2" y1="207" x2="384.19" y2="193.64" stroke="#111" stroke-width="0.9"/>
<polygon points="387.2,192.3 384.53,195.15 383.3,192.38" fill="#111"/>
<line x1="355" y1="229.2" x2="385.18" y2="242.56" stroke="#111" stroke-width="0.9"/>
<polygon points="388.2,243.9 384.3,243.83 385.52,241.06" fill="#111"/>
<text x="371.2" y="196.4" font-size="6.8" fill="#111" text-anchor="middle" transform="rotate(-24.5 371.2 196.4)">PE-CD26<tspan baseline-shift="super" font-size="3.8">neg</tspan></text>
<text x="368.4" y="243.6" font-size="6.8" fill="#111" text-anchor="middle" transform="rotate(23 368.4 243.6)">PE-CD26<tspan baseline-shift="super" font-size="3.8">+</tspan></text>
<rect x="369.2" y="208.2" width="3.3" height="6.5" fill="#e6e6ea" stroke="#b9b9bf" stroke-width="0.4" rx="1"/>
<path d="M365.1 215.3 V223.6 A5.7 1.9 0 0 0 376.5 223.6 V215.3 Z" fill="url(#mag)"/>
<ellipse cx="370.8" cy="215.3" rx="5.7" ry="1.9" fill="#cb62b5"/>
<rect x="369.6" y="212.4" width="2.5" height="3.2" fill="#dedee2"/>
<path d="M391.6 173.3 V208.6 A2.8 2.8 0 0 0 397.2 208.6 V173.3 Z" fill="url(#tube)" stroke="#b4c3d2" stroke-width="0.5"/>
<line x1="391" y1="173.3" x2="397.8" y2="173.3" stroke="#b4c3d2" stroke-width="0.7"/>
<circle cx="393.1" cy="184.6" r="1.2" fill="#7aa3e2"/>
<circle cx="395.7" cy="185.9" r="1.2" fill="#8e9298"/>
<circle cx="393.1" cy="187.25" r="1.2" fill="#8e9298"/>
<circle cx="395.7" cy="188.55" r="1.2" fill="#8e9298"/>
<circle cx="393.1" cy="189.9" r="1.2" fill="#8e9298"/>
<circle cx="395.7" cy="191.2" r="1.2" fill="#8e9298"/>
<circle cx="393.1" cy="192.55" r="1.2" fill="#8e9298"/>
<circle cx="395.7" cy="193.85" r="1.2" fill="#8e9298"/>
<circle cx="393.1" cy="195.2" r="1.2" fill="#8e9298"/>
<circle cx="395.7" cy="196.5" r="1.2" fill="#8e9298"/>
<circle cx="393.1" cy="197.85" r="1.2" fill="#8e9298"/>
<circle cx="395.7" cy="199.15" r="1.2" fill="#8e9298"/>
<circle cx="393.1" cy="200.5" r="1.2" fill="#8e9298"/>
<circle cx="395.7" cy="201.8" r="1.2" fill="#7aa3e2"/>
<circle cx="393.1" cy="203.15" r="1.2" fill="#8e9298"/>
<circle cx="395.7" cy="204.45" r="1.2" fill="#8e9298"/>
<circle cx="393.1" cy="205.8" r="1.2" fill="#7aa3e2"/>
<circle cx="395.7" cy="207.1" r="1.2" fill="#8e9298"/>
<circle cx="393.1" cy="208.45" r="1.2" fill="#8e9298"/>
<circle cx="395.7" cy="209.75" r="1.2" fill="#8e9298"/>
<path d="M391.6 234 V269.8 A2.8 2.8 0 0 0 397.2 269.8 V234 Z" fill="url(#tube)" stroke="#b4c3d2" stroke-width="0.5"/>
<line x1="391" y1="234" x2="397.8" y2="234" stroke="#b4c3d2" stroke-width="0.7"/>
<circle cx="393.1" cy="254.2" r="1.2" fill="#86ade8"/>
<circle cx="395.7" cy="255.5" r="1.2" fill="#86ade8"/>
<circle cx="393.1" cy="256.8" r="1.2" fill="#86ade8"/>
<circle cx="395.7" cy="258.1" r="1.2" fill="#86ade8"/>
<circle cx="393.1" cy="259.4" r="1.2" fill="#86ade8"/>
<circle cx="395.7" cy="260.7" r="1.2" fill="#c6b3b0"/>
<circle cx="393.1" cy="262" r="1.2" fill="#86ade8"/>
<circle cx="395.7" cy="263.3" r="1.2" fill="#86ade8"/>
<circle cx="393.1" cy="264.6" r="1.2" fill="#c6b3b0"/>
<circle cx="395.7" cy="265.9" r="1.2" fill="#86ade8"/>
<circle cx="393.1" cy="267.2" r="1.2" fill="#86ade8"/>
<circle cx="395.7" cy="268.5" r="1.2" fill="#86ade8"/>
<circle cx="393.1" cy="269.8" r="1.2" fill="#86ade8"/>
<circle cx="395.7" cy="271.1" r="1.2" fill="#86ade8"/>
<circle cx="394.3" cy="225.8" r="2.2" fill="#ffffff" stroke="#6fb39c" stroke-width="0.65"/>
<circle cx="394.3" cy="225.8" r="0.92" fill="#f4fbf8" stroke="#a9d6c6" stroke-width="0.4"/>
<circle cx="398.5" cy="229.7" r="2.2" fill="#ffffff" stroke="#6fb39c" stroke-width="0.65"/>
<circle cx="398.5" cy="229.7" r="0.92" fill="#f4fbf8" stroke="#a9d6c6" stroke-width="0.4"/>
<circle cx="392.5" cy="231.4" r="2.2" fill="#ffffff" stroke="#6fb39c" stroke-width="0.65"/>
<circle cx="392.5" cy="231.4" r="0.92" fill="#f4fbf8" stroke="#a9d6c6" stroke-width="0.4"/>
<line x1="403.7" y1="192" x2="410.7" y2="192" stroke="#111" stroke-width="0.9"/>
<polygon points="413.6,192 410.4,193.34 410.4,190.66" fill="#111"/>
<line x1="403.7" y1="245" x2="410.7" y2="245" stroke="#111" stroke-width="0.9"/>
<polygon points="413.6,245 410.4,246.34 410.4,243.66" fill="#111"/>
<path d="M418.2 182.8 V204.1 H443 V182.8" fill="#fbfdfc" stroke="#9ec9bc" stroke-width="0.6"/>
<circle cx="435" cy="189.3" r="3" fill="url(#gG)"/>
<circle cx="430.6" cy="191.1" r="3" fill="url(#gG)"/>
<circle cx="422.5" cy="193" r="3" fill="url(#gG)"/>
<circle cx="427.5" cy="194.9" r="3" fill="url(#gG)"/>
<circle cx="432.5" cy="194.9" r="3" fill="url(#gG)"/>
<circle cx="437.5" cy="192.4" r="3" fill="url(#gG)"/>
<circle cx="437.5" cy="196.75" r="3" fill="url(#gG)"/>
<circle cx="423.1" cy="198" r="3" fill="url(#gG)"/>
<circle cx="435" cy="199.25" r="3" fill="url(#gG)"/>
<circle cx="427.6" cy="198.8" r="3" fill="url(#gG)"/>
<circle cx="425.6" cy="188.6" r="3" fill="url(#gB)"/>
<circle cx="430.6" cy="199.9" r="3" fill="url(#gB)"/>
<path d="M418.8 234.4 V256.2 H442.3 V234.4" fill="#fbfdfc" stroke="#9ec9bc" stroke-width="0.6"/>
<circle cx="428.75" cy="238.75" r="2.7" fill="url(#gG)"/>
<circle cx="424.75" cy="240" r="2.7" fill="url(#gD)"/>
<circle cx="433.75" cy="240" r="2.7" fill="url(#gD)"/>
<circle cx="431" cy="246.9" r="2.7" fill="url(#gG)"/>
<circle cx="429.4" cy="244.4" r="2.7" fill="url(#gD)"/>
<circle cx="434" cy="244.4" r="2.7" fill="url(#gD)"/>
<circle cx="426.9" cy="249.75" r="2.7" fill="url(#gL)"/>
<circle cx="433.1" cy="250" r="2.7" fill="url(#gD)"/>
<text x="431.2" y="212.6" font-size="6.4" fill="#111" text-anchor="middle">CD26<tspan baseline-shift="super" font-size="3.6">neg</tspan></text>
<text x="431.2" y="220" font-size="6.4" fill="#111" text-anchor="middle">fraction</text>
<text x="430.8" y="265" font-size="6.4" fill="#111" text-anchor="middle">CD26<tspan baseline-shift="super" font-size="3.6">+</tspan></text>
<text x="430.8" y="272.3" font-size="6.4" fill="#111" text-anchor="middle">fraction</text>
<line x1="450" y1="190.8" x2="478.35" y2="207.99" stroke="#111" stroke-width="0.9"/>
<polygon points="481,209.6 477.35,209.06 478.83,206.62" fill="#111"/>
<line x1="449.5" y1="245.4" x2="478.37" y2="227.44" stroke="#111" stroke-width="0.9"/>
<polygon points="481,225.8 478.87,228.81 477.36,226.38" fill="#111"/>
<circle cx="497.1" cy="208.2" r="3.4" fill="url(#gG)"/>
<circle cx="502.2" cy="210.4" r="3.4" fill="url(#gG)"/>
<circle cx="493.6" cy="212.5" r="3.4" fill="url(#gG)"/>
<circle cx="491.9" cy="208.7" r="3.4" fill="url(#gB)"/>
<circle cx="508.7" cy="218.6" r="3.4" fill="url(#gG)"/>
<circle cx="486.7" cy="219.5" r="3.4" fill="url(#gG)"/>
<circle cx="484.9" cy="223.8" r="3.4" fill="url(#gG)"/>
<circle cx="490.1" cy="222.5" r="3.4" fill="url(#gG)"/>
<circle cx="500.1" cy="223.4" r="3.4" fill="url(#gG)"/>
<circle cx="494.5" cy="230.7" r="3.4" fill="url(#gG)"/>
<circle cx="502.7" cy="226.4" r="3.4" fill="url(#gG)"/>
<circle cx="488.4" cy="213.8" r="3.4" fill="url(#gD)"/>
<circle cx="505.3" cy="213.8" r="3.4" fill="url(#gD)"/>
<circle cx="499.7" cy="218.6" r="3.4" fill="url(#gD)"/>
<circle cx="495.8" cy="221.6" r="3.4" fill="url(#gD)"/>
<circle cx="494.5" cy="216.9" r="3.4" fill="url(#gD)"/>
<circle cx="499.7" cy="213.8" r="3.4" fill="url(#gL)"/>
<circle cx="504.4" cy="221.6" r="3.4" fill="url(#gB)"/>
<circle cx="491.4" cy="228.1" r="3.4" fill="url(#gL)"/>
<circle cx="498.4" cy="228.1" r="3.4" fill="url(#gD)"/>
<text x="497" y="240.2" font-size="7.2" fill="#111" text-anchor="middle">MagSep</text>
<text x="497" y="248.8" font-size="7.2" fill="#111" text-anchor="middle">pseudoislet</text>
<text x="497" y="257.2" font-size="7.2" fill="#111" text-anchor="middle">control/<tspan font-style="italic">RFX6</tspan><tspan baseline-shift="super" font-size="3.8" font-style="italic">kd</tspan></text>
<line x1="429.8" y1="277.5" x2="429.8" y2="296.8" stroke="#111" stroke-width="0.8" stroke-dasharray="1.2 1.1"/>
<polygon points="429.8,299.5 428.54,296.5 431.06,296.5" fill="#111"/>
<line x1="496.4" y1="277.5" x2="496.4" y2="296.8" stroke="#111" stroke-width="0.8" stroke-dasharray="1.2 1.1"/>
<polygon points="496.4,299.5 495.14,296.5 497.66,296.5" fill="#111"/>
<text x="429.8" y="307.6" font-size="7.2" fill="#111" text-anchor="middle">qRT-PCR</text>
<text x="429.8" y="315.8" font-size="7.2" fill="#111" text-anchor="middle">analyses</text>
<text x="497" y="307.6" font-size="7.2" fill="#111" text-anchor="middle">functional</text>
<text x="497" y="315.8" font-size="7.2" fill="#111" text-anchor="middle">assays</text>
<text transform="translate(5.95 335.95) scale(1 1.04)" font-size="14.8" font-weight="bold" text-anchor="middle" fill="#000" style="stroke-width:0.4px">G</text>
<line x1="34.4" y1="337.4" x2="34.4" y2="445.7" stroke="#111" stroke-width="0.8"/>
<line x1="34.4" y1="445.3" x2="137.6" y2="445.3" stroke="#111" stroke-width="0.8"/>
<line x1="30.5" y1="445.3" x2="34.4" y2="445.3" stroke="#111" stroke-width="0.8"/>
<text x="29.6" y="447.2" font-size="6" fill="#111" text-anchor="end" font-weight="bold">0</text>
<line x1="30.5" y1="423.8" x2="34.4" y2="423.8" stroke="#111" stroke-width="0.8"/>
<text x="29.6" y="425.7" font-size="6" fill="#111" text-anchor="end" font-weight="bold">2</text>
<line x1="30.5" y1="402.3" x2="34.4" y2="402.3" stroke="#111" stroke-width="0.8"/>
<text x="29.6" y="404.2" font-size="6" fill="#111" text-anchor="end" font-weight="bold">4</text>
<line x1="30.5" y1="380.8" x2="34.4" y2="380.8" stroke="#111" stroke-width="0.8"/>
<text x="29.6" y="382.7" font-size="6" fill="#111" text-anchor="end" font-weight="bold">6</text>
<line x1="30.5" y1="359.3" x2="34.4" y2="359.3" stroke="#111" stroke-width="0.8"/>
<text x="29.6" y="361.2" font-size="6" fill="#111" text-anchor="end" font-weight="bold">8</text>
<line x1="30.5" y1="337.8" x2="34.4" y2="337.8" stroke="#111" stroke-width="0.8"/>
<text x="29.6" y="339.7" font-size="6" fill="#111" text-anchor="end" font-weight="bold">10</text>
<rect x="75.9" y="381.88" width="21.1" height="63.43" fill="#7a1418"/>
<line x1="86.4" y1="372.8" x2="86.4" y2="383" stroke="#9c1c20" stroke-width="0.7"/>
<line x1="81.4" y1="372.8" x2="91.4" y2="372.8" stroke="#9c1c20" stroke-width="0.7"/>
<rect x="80.1" y="352.7" width="3.8" height="3.8" fill="#000"/>
<rect x="88.3" y="354.1" width="3.8" height="3.8" fill="#000"/>
<rect x="84.3" y="370.9" width="3.8" height="3.8" fill="#000"/>
<rect x="80.1" y="377.4" width="3.8" height="3.8" fill="#000"/>
<rect x="88.3" y="377.4" width="3.8" height="3.8" fill="#000"/>
<rect x="84.5" y="408.7" width="3.8" height="3.8" fill="#000"/>
<rect x="84.5" y="422.9" width="3.8" height="3.8" fill="#000"/>
<circle cx="46.9" cy="444" r="1.95" fill="#000"/>
<circle cx="49.75" cy="444.5" r="1.95" fill="#000"/>
<circle cx="52.6" cy="444" r="1.95" fill="#000"/>
<circle cx="55.45" cy="444.5" r="1.95" fill="#000"/>
<circle cx="58.3" cy="444" r="1.95" fill="#000"/>
<circle cx="61.15" cy="444.5" r="1.95" fill="#000"/>
<circle cx="64" cy="444" r="1.95" fill="#000"/>
<rect x="107" y="443.7" width="20" height="1.3" fill="#7a1418"/>
<polygon points="108.4,440.18 106.3,444.38 110.5,444.38" fill="#000"/>
<polygon points="111.35,440.78 109.25,444.98 113.45,444.98" fill="#000"/>
<polygon points="114.3,440.18 112.2,444.38 116.4,444.38" fill="#000"/>
<polygon points="117.25,440.78 115.15,444.98 119.35,444.98" fill="#000"/>
<polygon points="120.2,440.18 118.1,444.38 122.3,444.38" fill="#000"/>
<polygon points="123.15,440.78 121.05,444.98 125.25,444.98" fill="#000"/>
<polygon points="126.1,440.18 124,444.38 128.2,444.38" fill="#000"/>
<line x1="53.8" y1="342.6" x2="83.7" y2="342.6" stroke="#111" stroke-width="0.8"/>
<line x1="89.8" y1="342.6" x2="115.7" y2="342.6" stroke="#111" stroke-width="0.8"/>
<text x="68.6" y="343" font-size="15" fill="#000" text-anchor="middle" font-weight="bold">***</text>
<text x="102.7" y="343" font-size="15" fill="#000" text-anchor="middle" font-weight="bold">***</text>
<line x1="54.4" y1="445.3" x2="54.4" y2="448.3" stroke="#111" stroke-width="0.8"/>
<text x="54.4" y="455.2" font-size="7.5" fill="#000" text-anchor="middle" font-style="italic">INS</text>
<line x1="86.4" y1="445.3" x2="86.4" y2="448.3" stroke="#111" stroke-width="0.8"/>
<text x="86.4" y="455.2" font-size="7.5" fill="#000" text-anchor="middle" font-style="italic">GCG</text>
<line x1="117" y1="445.3" x2="117" y2="448.3" stroke="#111" stroke-width="0.8"/>
<text x="117" y="455.2" font-size="7.5" fill="#000" text-anchor="middle" font-style="italic">SST</text>
<text x="9.9" y="391.8" font-size="7" fill="#151515" text-anchor="middle" transform="rotate(-90 9.9 391.8)">Relative Gene Expression</text>
<text x="18.4" y="390.7" font-size="6.9" fill="#151515" text-anchor="middle" transform="rotate(-90 18.4 390.7)">(Normalized to <tspan font-style="italic">CD26</tspan><tspan baseline-shift="super" font-size="3.8" font-style="italic">neg</tspan> and <tspan font-style="italic">BACT</tspan>)</text>
<text transform="translate(137.6 335.95) scale(1 1.04)" font-size="14.8" font-weight="bold" text-anchor="middle" fill="#000" style="stroke-width:0.4px">H</text>
<text x="205.6" y="336.6" font-size="8.3" fill="#111" text-anchor="middle" font-style="italic">RFX6</text>
<line x1="169.6" y1="337.5" x2="169.6" y2="446.6" stroke="#111" stroke-width="0.8"/>
<line x1="169.6" y1="446.2" x2="239.3" y2="446.2" stroke="#111" stroke-width="0.8"/>
<line x1="165.9" y1="446.2" x2="169.6" y2="446.2" stroke="#111" stroke-width="0.8"/>
<text x="164.6" y="448.4" font-size="6.1" fill="#111" text-anchor="end" font-weight="bold">0.0</text>
<line x1="165.9" y1="410.1" x2="169.6" y2="410.1" stroke="#111" stroke-width="0.8"/>
<text x="164.6" y="412.3" font-size="6.1" fill="#111" text-anchor="end" font-weight="bold">0.5</text>
<line x1="165.9" y1="374" x2="169.6" y2="374" stroke="#111" stroke-width="0.8"/>
<text x="164.6" y="376.2" font-size="6.1" fill="#111" text-anchor="end" font-weight="bold">1.0</text>
<line x1="165.9" y1="337.9" x2="169.6" y2="337.9" stroke="#111" stroke-width="0.8"/>
<text x="164.6" y="340.1" font-size="6.1" fill="#111" text-anchor="end" font-weight="bold">1.5</text>
<rect x="180" y="374" width="19.3" height="72.2" fill="#9b9b9b"/>
<rect x="210.4" y="411.5" width="19.2" height="34.7" fill="#7a1418"/>
<line x1="189.4" y1="369" x2="189.4" y2="375" stroke="#9b9b9b" stroke-width="0.8"/>
<line x1="184.4" y1="369" x2="194.4" y2="369" stroke="#9b9b9b" stroke-width="0.8"/>
<line x1="219.8" y1="409" x2="219.8" y2="412" stroke="#9c1c20" stroke-width="0.8"/>
<line x1="214.8" y1="409" x2="224.8" y2="409" stroke="#9c1c20" stroke-width="0.8"/>
<circle cx="189.3" cy="362.6" r="1.6" fill="#000"/>
<circle cx="187" cy="374" r="1.6" fill="#000"/>
<circle cx="192" cy="374" r="1.6" fill="#000"/>
<circle cx="189.3" cy="385.8" r="1.6" fill="#000"/>
<rect x="209.2" y="405.1" width="2.8" height="2.8" fill="#000"/>
<rect x="214.9" y="403.4" width="2.8" height="2.8" fill="#000"/>
<rect x="221.1" y="405.4" width="2.8" height="2.8" fill="#000"/>
<rect x="226.9" y="406.5" width="2.8" height="2.8" fill="#000"/>
<rect x="214.8" y="407.5" width="2.8" height="2.8" fill="#000"/>
<rect x="218.2" y="409.4" width="2.8" height="2.8" fill="#000"/>
<rect x="218.2" y="418" width="2.8" height="2.8" fill="#000"/>
<rect x="218.2" y="421" width="2.8" height="2.8" fill="#000"/>
<line x1="189.4" y1="354.7" x2="219.7" y2="354.7" stroke="#111" stroke-width="0.7"/>
<text x="204.8" y="355.8" font-size="11.2" fill="#000" text-anchor="middle" font-weight="bold">**</text>
<text x="190.5" y="455.6" font-size="7.1" fill="#111" text-anchor="middle">CD26<tspan baseline-shift="super" font-size="3.8">neg</tspan></text>
<text x="221.3" y="455.6" font-size="7.1" fill="#111" text-anchor="middle">CD26<tspan baseline-shift="super" font-size="3.8">+</tspan></text>
<line x1="189.6" y1="446.2" x2="189.6" y2="449.2" stroke="#111" stroke-width="0.8"/>
<line x1="220" y1="446.2" x2="220" y2="449.2" stroke="#111" stroke-width="0.8"/>
<text x="146.4" y="391.7" font-size="7" fill="#151515" text-anchor="middle" transform="rotate(-90 146.4 391.7)">Relative Gene Expression</text>
<text x="152.9" y="391.4" font-size="6.9" fill="#151515" text-anchor="middle" transform="rotate(-90 152.9 391.4)">(Normalized to control and <tspan font-style="italic">BACT</tspan>)</text>
<text transform="translate(244.65 336.2) scale(1 1.04)" font-size="14.8" font-weight="bold" text-anchor="middle" fill="#000" style="stroke-width:0.4px">I</text>
<line x1="283.9" y1="336.8" x2="283.9" y2="445" stroke="#111" stroke-width="0.8"/>
<line x1="283.9" y1="444.6" x2="511.8" y2="444.6" stroke="#111" stroke-width="0.8"/>
<line x1="279.7" y1="444.6" x2="283.9" y2="444.6" stroke="#111" stroke-width="0.8"/>
<text x="278.8" y="446.8" font-size="6.3" fill="#111" text-anchor="end" font-weight="bold">0.0</text>
<line x1="279.7" y1="408.8" x2="283.9" y2="408.8" stroke="#111" stroke-width="0.8"/>
<text x="278.8" y="411" font-size="6.3" fill="#111" text-anchor="end" font-weight="bold">0.5</text>
<line x1="279.7" y1="373" x2="283.9" y2="373" stroke="#111" stroke-width="0.8"/>
<text x="278.8" y="375.2" font-size="6.3" fill="#111" text-anchor="end" font-weight="bold">1.0</text>
<line x1="279.7" y1="337.2" x2="283.9" y2="337.2" stroke="#111" stroke-width="0.8"/>
<text x="278.8" y="339.4" font-size="6.3" fill="#111" text-anchor="end" font-weight="bold">1.5</text>
<rect x="292.4" y="413.8" width="15.8" height="30.8" fill="#7a1418"/>
<line x1="300.3" y1="409.6" x2="300.3" y2="414.8" stroke="#9c1c20" stroke-width="0.7"/>
<line x1="296.1" y1="409.6" x2="304.5" y2="409.6" stroke="#9c1c20" stroke-width="0.7"/>
<rect x="316.75" y="405.6" width="15.8" height="39" fill="#7a1418"/>
<line x1="324.65" y1="399" x2="324.65" y2="406.6" stroke="#9c1c20" stroke-width="0.7"/>
<line x1="320.45" y1="399" x2="328.85" y2="399" stroke="#9c1c20" stroke-width="0.7"/>
<rect x="341.1" y="413.8" width="15.8" height="30.8" fill="#7a1418"/>
<line x1="349" y1="409.6" x2="349" y2="414.8" stroke="#9c1c20" stroke-width="0.7"/>
<line x1="344.8" y1="409.6" x2="353.2" y2="409.6" stroke="#9c1c20" stroke-width="0.7"/>
<rect x="365.45" y="394" width="15.8" height="50.6" fill="#7a1418"/>
<line x1="373.35" y1="389" x2="373.35" y2="395" stroke="#9c1c20" stroke-width="0.7"/>
<line x1="369.15" y1="389" x2="377.55" y2="389" stroke="#9c1c20" stroke-width="0.7"/>
<rect x="389.8" y="401.7" width="15.8" height="42.9" fill="#7a1418"/>
<line x1="397.7" y1="395.7" x2="397.7" y2="402.7" stroke="#9c1c20" stroke-width="0.7"/>
<line x1="393.5" y1="395.7" x2="401.9" y2="395.7" stroke="#9c1c20" stroke-width="0.7"/>
<rect x="414.15" y="369.4" width="15.8" height="75.2" fill="#7a1418"/>
<line x1="422.05" y1="363.5" x2="422.05" y2="370.4" stroke="#9c1c20" stroke-width="0.7"/>
<line x1="417.85" y1="363.5" x2="426.25" y2="363.5" stroke="#9c1c20" stroke-width="0.7"/>
<rect x="438.5" y="391.8" width="15.8" height="52.8" fill="#7a1418"/>
<line x1="446.4" y1="385.2" x2="446.4" y2="392.8" stroke="#9c1c20" stroke-width="0.7"/>
<line x1="442.2" y1="385.2" x2="450.6" y2="385.2" stroke="#9c1c20" stroke-width="0.7"/>
<rect x="462.85" y="375.3" width="15.8" height="69.3" fill="#7a1418"/>
<line x1="470.75" y1="369.4" x2="470.75" y2="376.3" stroke="#9c1c20" stroke-width="0.7"/>
<line x1="466.55" y1="369.4" x2="474.95" y2="369.4" stroke="#9c1c20" stroke-width="0.7"/>
<rect x="487.2" y="378.6" width="15.8" height="66" fill="#7a1418"/>
<line x1="495.1" y1="368.7" x2="495.1" y2="379.6" stroke="#9c1c20" stroke-width="0.7"/>
<line x1="490.9" y1="368.7" x2="499.3" y2="368.7" stroke="#9c1c20" stroke-width="0.7"/>
<line x1="283.9" y1="373" x2="511.8" y2="373" stroke="#000" stroke-width="1.1" stroke-dasharray="1.3 1.2"/>
<circle cx="300.3" cy="402.3" r="2" fill="#000"/>
<circle cx="294.3" cy="413.8" r="2" fill="#000"/>
<circle cx="305.9" cy="415.5" r="2" fill="#000"/>
<circle cx="300.3" cy="420.4" r="2" fill="#000"/>
<text x="300.3" y="357.2" font-size="10" fill="#000" text-anchor="middle" font-weight="bold">**</text>
<line x1="300.3" y1="444.6" x2="300.3" y2="447.8" stroke="#111" stroke-width="0.8"/>
<text x="302.9" y="451.8" font-size="7" fill="#000" text-anchor="end" font-style="italic" transform="rotate(-45 302.9 451.8)">RFX6</text>
<circle cx="324.3" cy="394" r="2" fill="#000"/>
<circle cx="322.3" cy="407.3" r="2" fill="#000"/>
<circle cx="325" cy="412" r="2" fill="#000"/>
<text x="324.65" y="357.2" font-size="10" fill="#000" text-anchor="middle" font-weight="bold">*</text>
<line x1="324.65" y1="444.6" x2="324.65" y2="447.8" stroke="#111" stroke-width="0.8"/>
<text x="327.25" y="451.8" font-size="7" fill="#000" text-anchor="end" font-style="italic" transform="rotate(-45 327.25 451.8)">CACNA1A</text>
<circle cx="354.6" cy="406.6" r="2" fill="#000"/>
<circle cx="342.7" cy="409.6" r="2" fill="#000"/>
<circle cx="354" cy="411" r="2" fill="#000"/>
<circle cx="348.7" cy="423.7" r="2" fill="#000"/>
<text x="349" y="357.2" font-size="10" fill="#000" text-anchor="middle" font-weight="bold">**</text>
<line x1="349" y1="444.6" x2="349" y2="447.8" stroke="#111" stroke-width="0.8"/>
<text x="351.6" y="451.8" font-size="7" fill="#000" text-anchor="end" font-style="italic" transform="rotate(-45 351.6 451.8)">SLC5A1</text>
<circle cx="366.8" cy="388.2" r="2" fill="#000"/>
<circle cx="378.3" cy="385.2" r="2" fill="#000"/>
<circle cx="372.7" cy="396.4" r="2" fill="#000"/>
<circle cx="372.7" cy="404.6" r="2" fill="#000"/>
<text x="373.35" y="357.2" font-size="10" fill="#000" text-anchor="middle" font-weight="bold">*</text>
<line x1="373.35" y1="444.6" x2="373.35" y2="447.8" stroke="#111" stroke-width="0.8"/>
<text x="375.95" y="451.8" font-size="7" fill="#000" text-anchor="end" font-style="italic" transform="rotate(-45 375.95 451.8)">RFX3</text>
<circle cx="397.1" cy="386.8" r="2" fill="#000"/>
<circle cx="390.9" cy="401.7" r="2" fill="#000"/>
<circle cx="403" cy="404.6" r="2" fill="#000"/>
<circle cx="397.1" cy="412.9" r="2" fill="#000"/>
<text x="397.7" y="357.2" font-size="10" fill="#000" text-anchor="middle" font-weight="bold">*</text>
<line x1="397.7" y1="444.6" x2="397.7" y2="447.8" stroke="#111" stroke-width="0.8"/>
<text x="400.3" y="451.8" font-size="7" fill="#000" text-anchor="end" font-style="italic" transform="rotate(-45 400.3 451.8)">CACNB2</text>
<circle cx="421.8" cy="353" r="2" fill="#000"/>
<circle cx="415.6" cy="372" r="2" fill="#000"/>
<circle cx="427.7" cy="374.3" r="2" fill="#000"/>
<circle cx="415.6" cy="376.2" r="2" fill="#000"/>
<line x1="422.05" y1="444.6" x2="422.05" y2="447.8" stroke="#111" stroke-width="0.8"/>
<text x="424.65" y="451.8" font-size="7" fill="#000" text-anchor="end" font-style="italic" transform="rotate(-45 424.65 451.8)">GCG</text>
<circle cx="445.9" cy="375" r="2" fill="#000"/>
<circle cx="439.9" cy="390.8" r="2" fill="#000"/>
<circle cx="451.8" cy="393.1" r="2" fill="#000"/>
<circle cx="445.9" cy="406.3" r="2" fill="#000"/>
<line x1="446.4" y1="444.6" x2="446.4" y2="447.8" stroke="#111" stroke-width="0.8"/>
<text x="449" y="451.8" font-size="7" fill="#000" text-anchor="end" font-style="italic" transform="rotate(-45 449 451.8)">CACNA1C</text>
<circle cx="470.5" cy="359.5" r="2" fill="#000"/>
<circle cx="470.5" cy="372.7" r="2" fill="#000"/>
<circle cx="470.5" cy="380" r="2" fill="#000"/>
<circle cx="470.5" cy="387.5" r="2" fill="#000"/>
<line x1="470.75" y1="444.6" x2="470.75" y2="447.8" stroke="#111" stroke-width="0.8"/>
<text x="473.35" y="451.8" font-size="7" fill="#000" text-anchor="end" font-style="italic" transform="rotate(-45 473.35 451.8)">ABCC8</text>
<circle cx="494.6" cy="354.6" r="2" fill="#000"/>
<circle cx="494.6" cy="372.7" r="2" fill="#000"/>
<circle cx="494.6" cy="386.8" r="2" fill="#000"/>
<circle cx="494.6" cy="396.7" r="2" fill="#000"/>
<line x1="495.1" y1="444.6" x2="495.1" y2="447.8" stroke="#111" stroke-width="0.8"/>
<text x="497.7" y="451.8" font-size="7" fill="#000" text-anchor="end" font-style="italic" transform="rotate(-45 497.7 451.8)">GCK</text>
<text x="257.4" y="391.4" font-size="7" fill="#151515" text-anchor="middle" transform="rotate(-90 257.4 391.4)">Relative Gene Expression</text>
<text x="265" y="390.95" font-size="6.97" fill="#151515" text-anchor="middle" transform="rotate(-90 265 390.95)">(Normalized to control and <tspan font-style="italic">BACT</tspan>)</text>
</svg>
</body>
</html>
